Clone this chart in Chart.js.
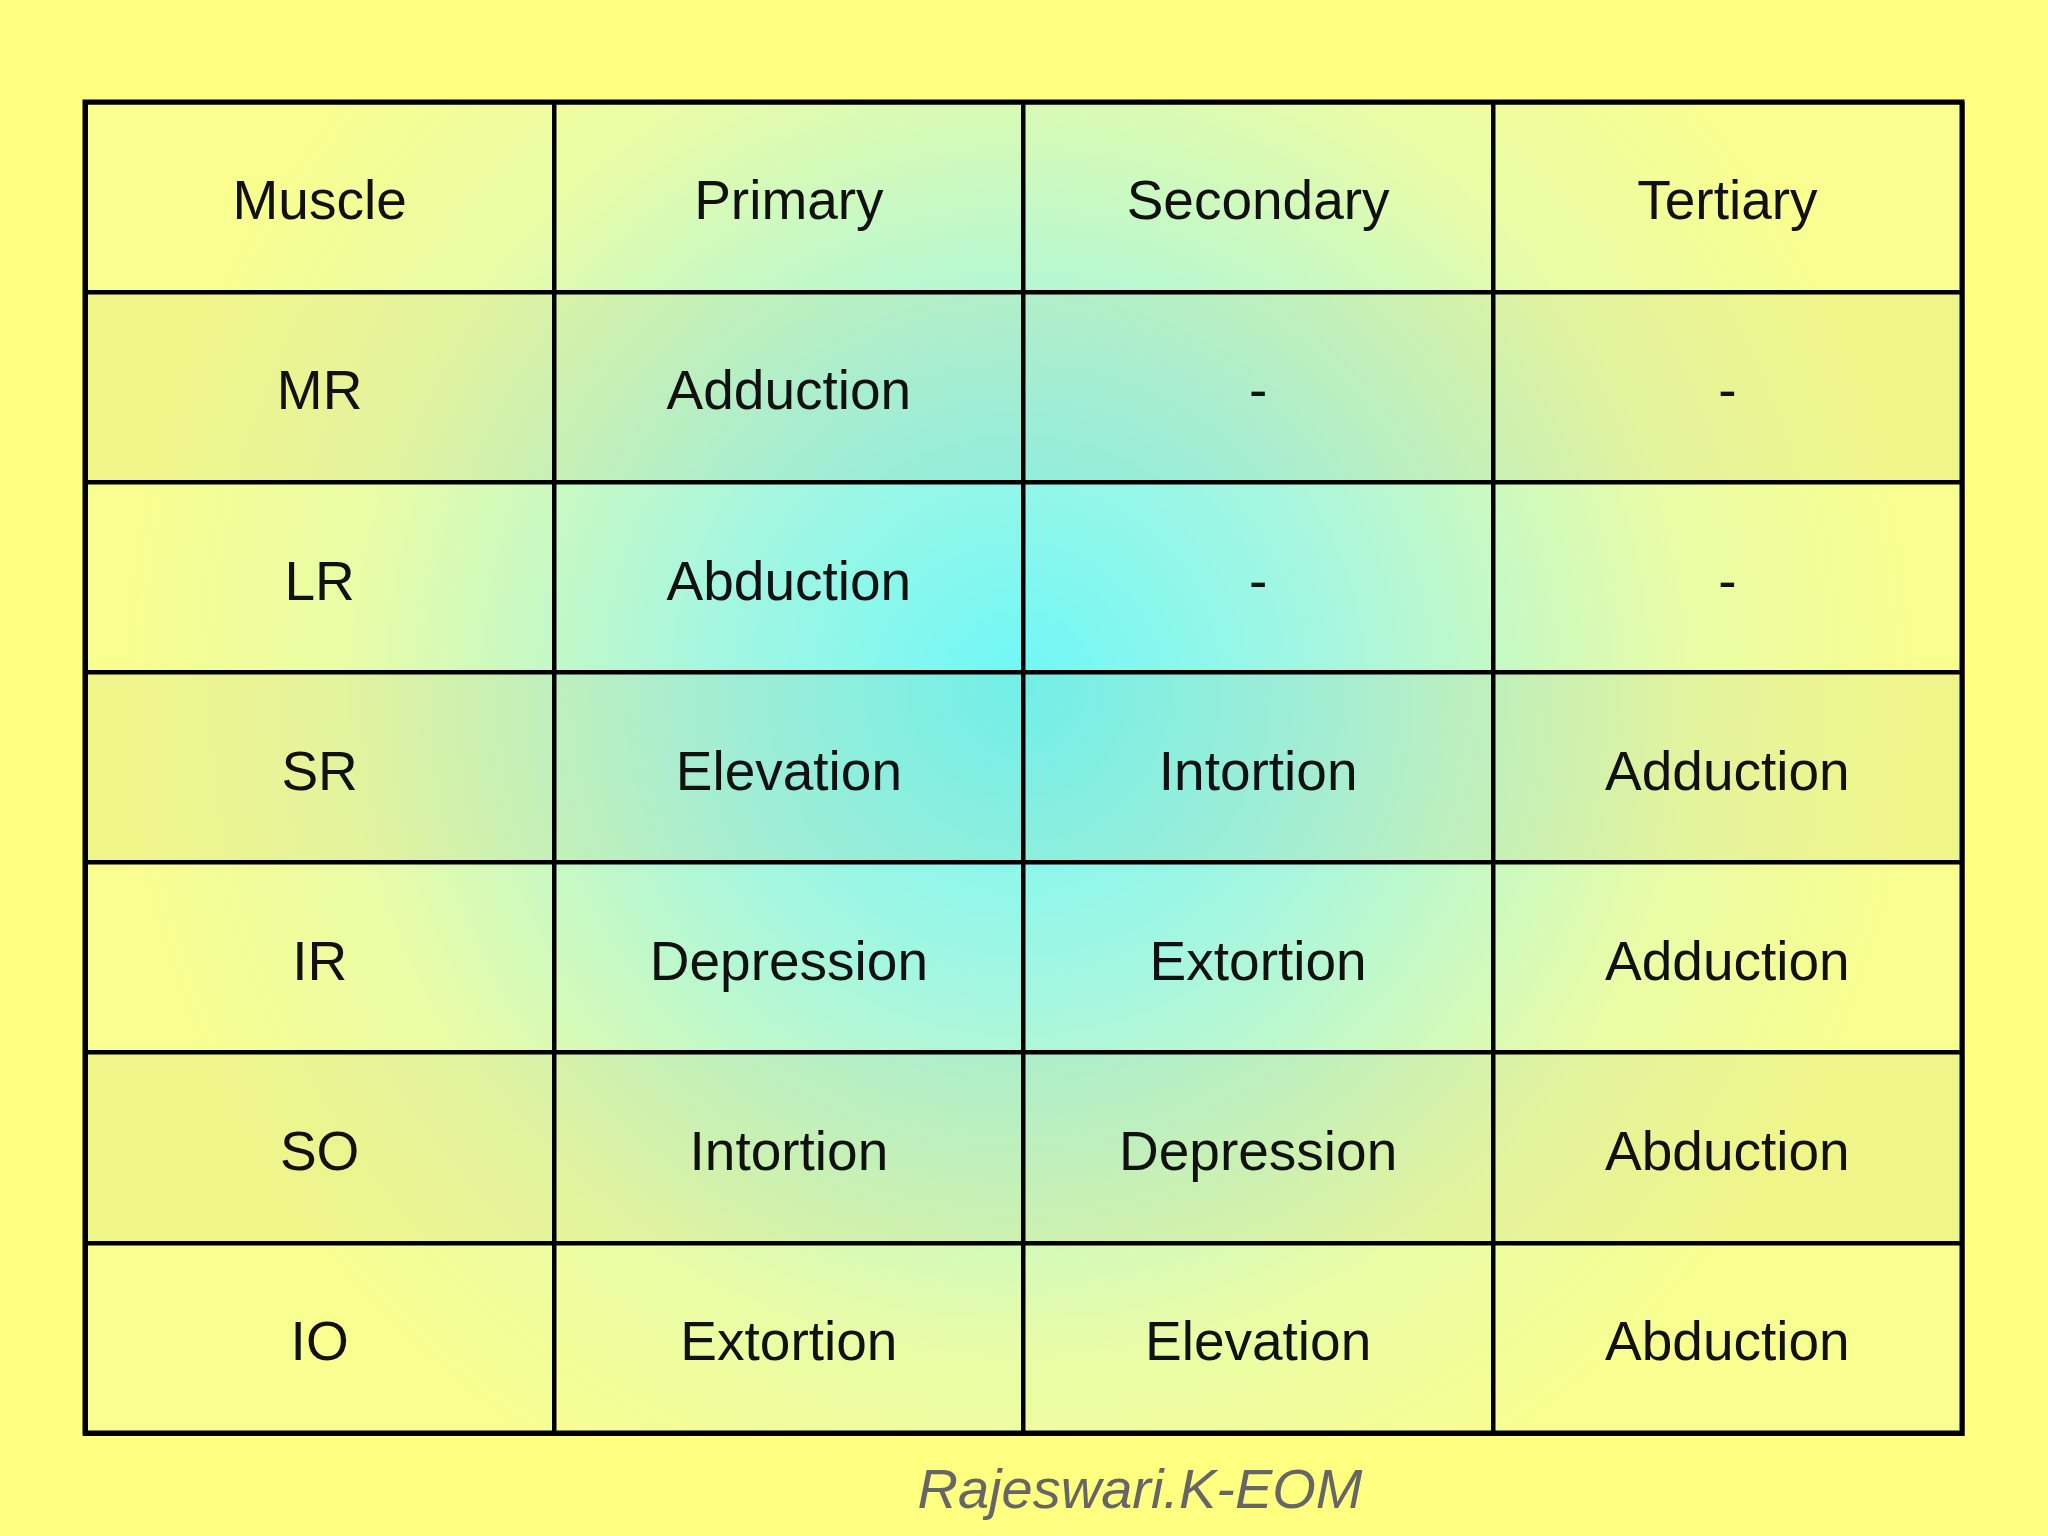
<!DOCTYPE html>
<html>
<head>
<meta charset="utf-8">
<script src="https://cdn.jsdelivr.net/npm/chart.js@4/dist/chart.umd.min.js"></script>
<style>
  html, body { margin: 0; padding: 0; background: #ffff80; }
  #wrap { width: 2048px; height: 1536px; }
</style>
</head>
<body>
<div id="wrap"><canvas id="tableChart" width="2048" height="1536"></canvas></div>
<script>
const columns = ['Muscle', 'Primary', 'Secondary', 'Tertiary'];
const muscles = ['MR', 'LR', 'SR', 'IR', 'SO', 'IO'];
const primary = ['Adduction', 'Abduction', 'Elevation', 'Depression', 'Intortion', 'Extortion'];
const secondary = ['-', '-', 'Intortion', 'Extortion', 'Depression', 'Elevation'];
const tertiary = ['-', '-', 'Adduction', 'Adduction', 'Abduction', 'Abduction'];
const rows = ['header'].concat(muscles);
const caption = 'Rajeswari.K-EOM';

// the cells of the table, row by row
const cells = [columns].concat(muscles.map((m, i) => [m, primary[i], secondary[i], tertiary[i]]));

const tablePlugin = {
    id: 'tablePlugin',
    beforeDraw(chart) {
        const c = chart.ctx, a = chart.chartArea;
        c.save();
        c.fillStyle = '#ffff80';
        c.fillRect(0, 0, chart.width, chart.height);
        // cyan glow in the middle of the table
        const cx = (a.left + a.right) / 2 - 5, cy = a.top + (a.bottom - a.top) * 0.44;
        const g = c.createRadialGradient(cx, cy, 0, cx, cy, 900);
        g.addColorStop(0, '#6ef8f8');
        g.addColorStop(0.35, '#a6f6e0');
        g.addColorStop(0.75, '#eafca6');
        g.addColorStop(1, '#f8fe90');
        c.fillStyle = g;
        c.fillRect(a.left, a.top, a.right - a.left, a.bottom - a.top);
        // slightly darker shading on alternate rows
        const y = chart.scales.y;
        const h = (a.bottom - a.top) / rows.length;
        rows.forEach((r, i) => {
            if (i % 2 === 1) {
                const yc = y.getPixelForValue(i);
                c.fillStyle = 'rgba(150, 140, 60, 0.08)';
                c.fillRect(a.left, yc - h / 2, a.right - a.left, h);
            }
        });
        c.restore();
    },
    afterDraw(chart) {
        const c = chart.ctx, a = chart.chartArea;
        const x = chart.scales.x, y = chart.scales.y;
        c.save();
        c.fillStyle = '#111';
        c.font = '55px "Liberation Sans", Arial, sans-serif';
        c.textAlign = 'center';
        c.textBaseline = 'middle';
        cells.forEach((row, ri) => {
            row.forEach((txt, ci) => {
                c.fillText(txt, x.getPixelForValue(ci), y.getPixelForValue(ri) + 7);
            });
        });
        // outer frame
        c.strokeStyle = '#000';
        c.lineWidth = 5;
        c.strokeRect(a.left, a.top, a.right - a.left, a.bottom - a.top);
        c.fillStyle = '#666';
        c.font = 'italic 56px "Liberation Sans", Arial, sans-serif';
        c.fillText(caption, 1140, 1492);
        c.restore();
    }
};

new Chart(document.getElementById('tableChart'), {
    type: 'scatter',
    data: { datasets: [] },
    options: {
        responsive: false,
        animation: false,
        devicePixelRatio: 1,
        layout: { padding: { left: 85, right: 86, top: 102, bottom: 103 } },
        plugins: { legend: { display: false }, tooltip: { enabled: false } },
        scales: {
            x: {
                type: 'category',
                labels: columns,
                offset: true,
                grid: { offset: true, color: '#000', lineWidth: 4.5, drawTicks: false },
                border: { display: true, color: '#000', width: 5 },
                ticks: { display: false }
            },
            y: {
                type: 'category',
                labels: rows,
                offset: true,
                grid: { offset: true, color: '#000', lineWidth: 4.5, drawTicks: false },
                border: { display: true, color: '#000', width: 5 },
                ticks: { display: false }
            }
        }
    },
    plugins: [tablePlugin]
});
</script>
</body>
</html>
